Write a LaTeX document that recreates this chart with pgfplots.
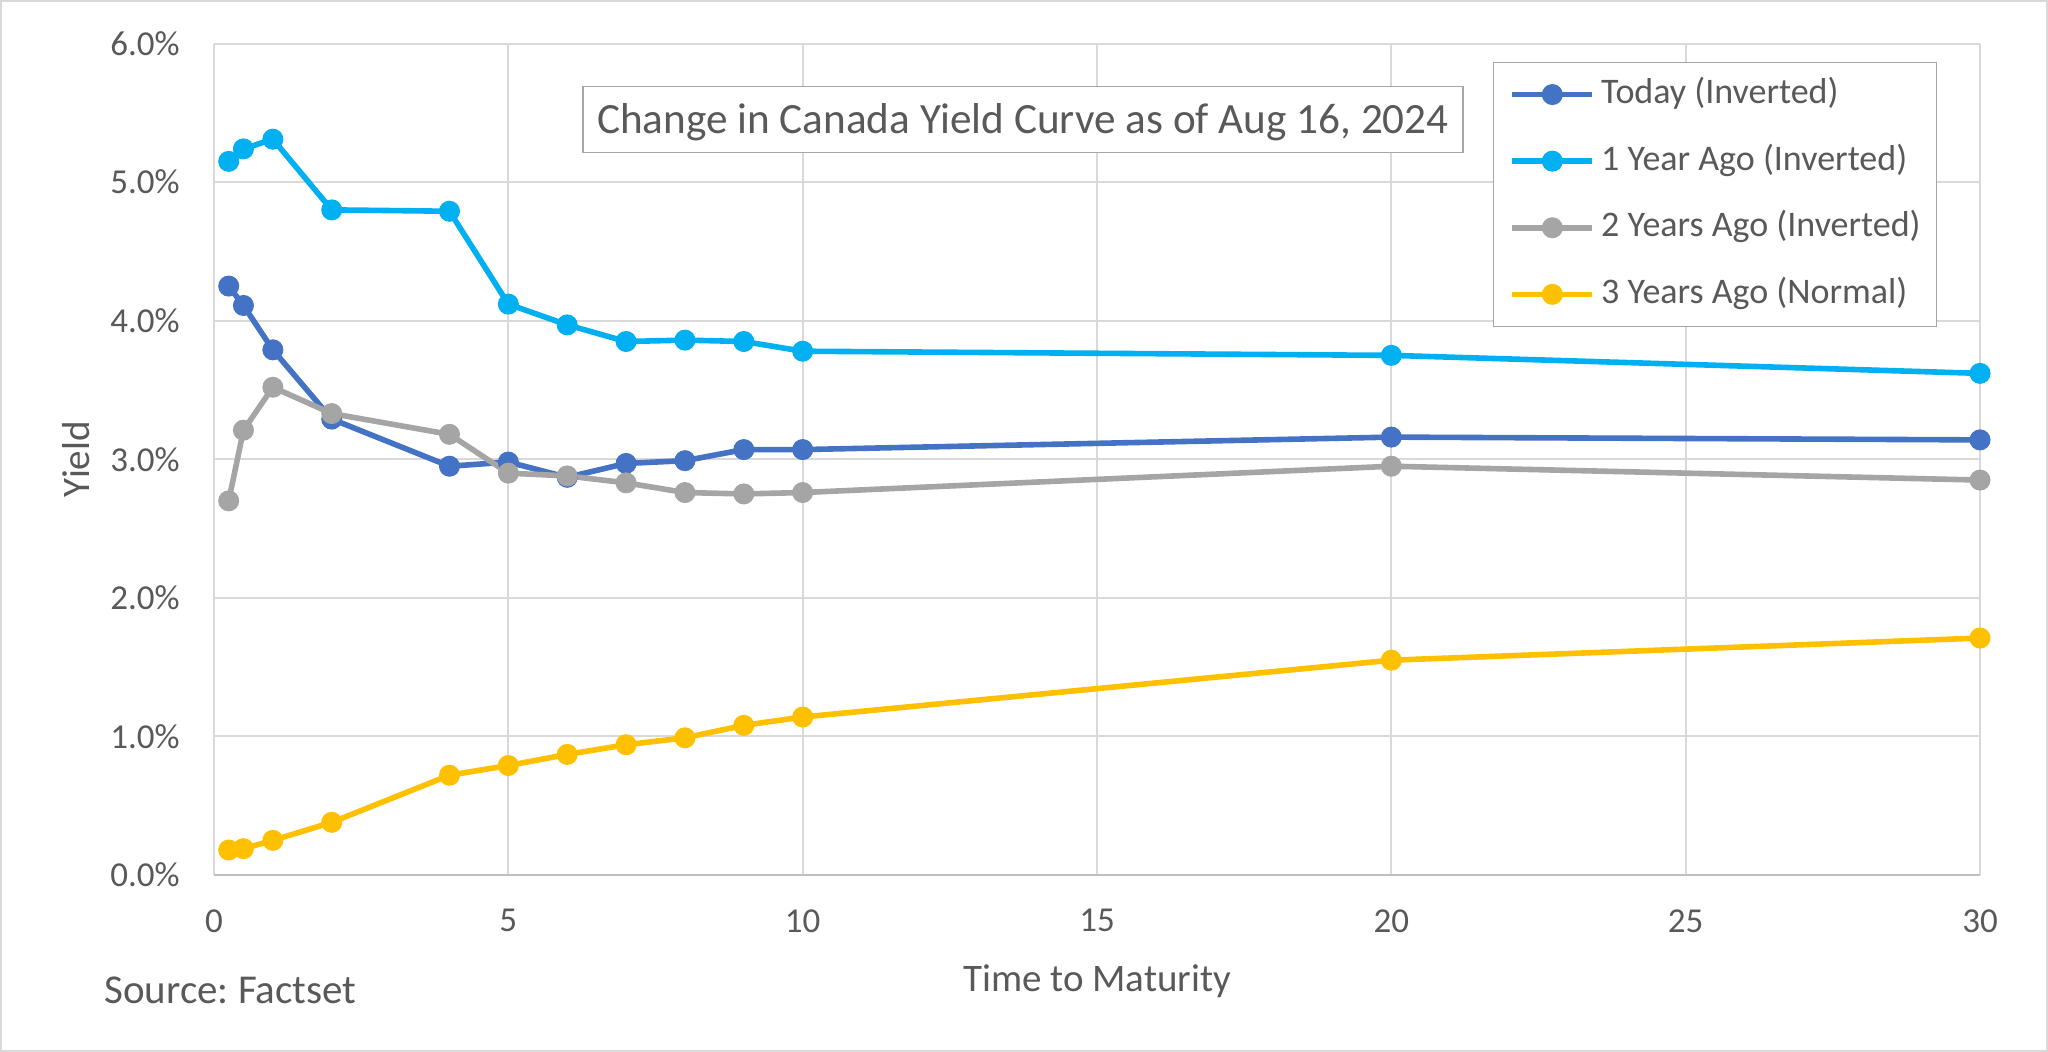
\documentclass[border=0pt]{standalone}
\usepackage{fontspec}
\setmainfont{Carlito}
\usepackage{pgfplots}
\pgfplotsset{compat=1.18}
\usepackage{pgfplotstable}

\definecolor{today}{HTML}{4472C4}
\definecolor{oneyr}{HTML}{00B0F0}
\definecolor{twoyr}{HTML}{A5A5A5}
\definecolor{threeyr}{HTML}{FFC000}
\definecolor{gridgray}{HTML}{D9D9D9}
\definecolor{axisgray}{HTML}{BFBFBF}
\definecolor{boxgray}{HTML}{A6A6A6}
\definecolor{txt}{HTML}{595959}

% yields in percent, by time to maturity (years)
\pgfplotstableread{
mat   today oneyr twoyr threeyr
0.25  4.25  5.15  2.70  0.18
0.5   4.11  5.24  3.21  0.19
1     3.79  5.31  3.52  0.25
2     3.29  4.80  3.33  0.38
4     2.95  4.79  3.18  0.72
5     2.98  4.12  2.90  0.79
6     2.87  3.97  2.88  0.87
7     2.97  3.85  2.83  0.94
8     2.99  3.86  2.76  0.99
9     3.07  3.85  2.75  1.08
10    3.07  3.78  2.76  1.14
20    3.16  3.75  2.95  1.55
30    3.14  3.62  2.85  1.71
}\yields

\pgfplotsset{
  curve/.style={#1, line width=2.8pt, mark=*, mark size=5pt,
    mark options={solid, fill=#1, draw=#1, line width=0.5pt}},
}

\begin{document}
\frenchspacing
\begin{tikzpicture}
\useasboundingbox (0,0) rectangle (1024pt,526pt);
\draw[gridgray, line width=1.2pt] (0.6pt,0.6pt) rectangle (1023.4pt,525.4pt);
\begin{axis}[
  at={(107pt,88.5pt)}, anchor=south west,
  scale only axis, width=883pt, height=415.7pt,
  xmin=0, xmax=30, ymin=0, ymax=6,
  xtick={0,5,...,30}, ytick={0,1,...,6},
  grid=major,
  major grid style={draw=gridgray, line width=1pt},
  axis line style={draw=none},
  major tick length=0pt,
  clip=false,
  /pgf/number format/assume math mode=true,
  tick label style={font=\fontsize{17.5}{21}\selectfont, text=txt, inner sep=0pt},
  x tick label style={anchor=north, yshift=-17pt},
  y tick label style={anchor=east, xshift=-17pt},
  yticklabel={\pgfmathprintnumber[fixed,fixed zerofill,precision=1]{\tick}\%},
  xlabel={Time to Maturity},
  ylabel={Yield},
  every axis x label/.style={at={(axis description cs:0.5,-0.1407)}, anchor=base,
    font=\fontsize{19.5}{23}\selectfont, text=txt, inner sep=0pt},
  every axis y label/.style={at={(axis description cs:-0.0781,0.5)}, rotate=90, anchor=center,
    font=\fontsize{19.5}{23}\selectfont, text=txt, inner sep=0pt},
  legend image code/.code={\draw[mark repeat=2, mark phase=2, #1]
    plot coordinates {(0pt,0pt) (20pt,0pt) (40pt,0pt)};},
  legend style={at={(0.7242,0.9779)}, anchor=north west, draw=boxgray, line width=0.6pt,
    inner xsep=8pt, inner ysep=7.5pt, row sep=16.3pt, column sep=3pt,
    font=\fontsize{18}{21.6}\selectfont, text=txt,
    nodes={inner sep=0pt, text height=13pt, text depth=4pt}},
  legend cell align=left,
]
\draw[axisgray, line width=1.2pt] (axis cs:0,0) -- (axis cs:30,0);
\addplot[curve=today] table[x=mat, y=today] {\yields};
\addlegendentry{Today (Inverted)}
\addplot[curve=oneyr] table[x=mat, y=oneyr] {\yields};
\addlegendentry{1 Year Ago (Inverted)}
\addplot[curve=twoyr] table[x=mat, y=twoyr] {\yields};
\addlegendentry{2 Years Ago (Inverted)}
\addplot[curve=threeyr] table[x=mat, y=threeyr] {\yields};
\addlegendentry{3 Years Ago (Normal)}
\end{axis}
\node[draw=boxgray, line width=0.6pt, fill=white, minimum width=440pt, minimum height=32.8pt,
  inner sep=0pt, text height=13.9pt, text depth=0pt, text=txt,
  font=\fontsize{21.6}{26}\selectfont] at (511.5pt,466.25pt)
  {Change in Canada Yield Curve as of Aug 16, 2024};
\node[anchor=base west, inner sep=0pt, text=txt, font=\fontsize{20.5}{24}\selectfont]
  at (52pt,24pt) {Source: Factset};
\end{tikzpicture}
\end{document}
